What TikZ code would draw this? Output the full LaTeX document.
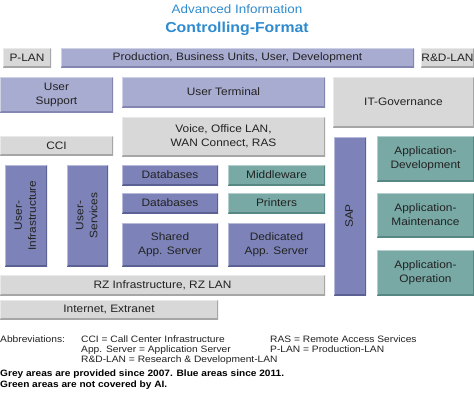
\documentclass[tikz,border=0pt]{standalone}
\usepackage{fontspec}
\usepackage{graphicx}
\setmainfont[FakeStretch=1.1]{Liberation Sans}
\definecolor{txt}{HTML}{222222}
\definecolor{title}{HTML}{2E8BCF}
\definecolor{lblue}{HTML}{A9ACD1}
\definecolor{lblueE}{HTML}{8286B0}
\definecolor{dblue}{HTML}{7D83B8}
\definecolor{dblueE}{HTML}{5C6194}
\definecolor{green}{HTML}{78A9A5}
\definecolor{greenE}{HTML}{578783}
\definecolor{grey}{HTML}{D8D8D8}
\definecolor{greyE}{HTML}{A6A6A6}
\tikzset{
  box/.style={inner sep=0pt, outer sep=0pt, align=center, text=txt,
    font=\fontsize{10.8}{14}\selectfont},
  bevel/.style={path picture={
    \draw[line width=3pt, #1] (path picture bounding box.south west) -- (path picture bounding box.south east) -- (path picture bounding box.north east);
    \draw[line width=1.6pt, white, opacity=0.45] (path picture bounding box.south west) -- (path picture bounding box.north west) -- (path picture bounding box.north east);}},
  greybox/.style={box, fill=grey, bevel=greyE},
  lbluebox/.style={box, fill=lblue, bevel=lblueE},
  dbluebox/.style={box, fill=dblue, bevel=dblueE},
  greenbox/.style={box, fill=green, bevel=greenE},
  abbr/.style={inner sep=0pt, anchor=base west, text=txt, font=\fontsize{9.3}{10}\selectfont},
  note/.style={inner sep=0pt, anchor=base west, text=black, font=\fontsize{9.2}{10}\selectfont\bfseries},
}
\newcommand{\bx}[7]{\node[#6, anchor=north west, minimum width={(#4-#2)*1pt}, minimum height={(#5-#3)*1pt}] (#1) at (#2,#3) {#7};}
\newcommand{\vtext}[1]{\rotatebox{90}{\begin{tabular}{@{}c@{}}#1\end{tabular}}}
\begin{document}
\begin{tikzpicture}[x=1pt, y=-1pt]
\useasboundingbox[fill=white] (0,0) rectangle (474,407);
% title
\node[inner sep=0pt, anchor=base, text=title, font=\fontsize{12.2}{13}\selectfont] (t1) at (237,13.5) {Advanced Information};
\node[inner sep=0pt, anchor=base, text=title, font=\fontsize{14.4}{15}\selectfont\bfseries] (t2) at (237,32.5) {Controlling-Format};
% row 1
\bx{plan}{3}{48}{51}{67}{greybox}{P-LAN}
\bx{prod}{61}{48}{414}{67}{lbluebox}{Production, Business Units, User, Development}
\bx{rdlan}{421}{48}{474}{67}{greybox}{R\&D-LAN}
% row 2
\bx{usup}{0}{77}{113}{112}{lbluebox}{User\\Support}
\bx{uterm}{122}{77}{325}{107}{lbluebox}{User Terminal}
\bx{itgov}{333}{77}{474}{127}{greybox}{IT-Governance}
\bx{cci}{0}{136}{113}{155}{greybox}{CCI}
\bx{voice}{122}{117}{325}{156}{greybox}{Voice, Office LAN,\\WAN Connect, RAS}
\bx{sap}{334}{137}{366}{295}{dbluebox}{\vtext{SAP}}
\bx{appdev}{377}{136}{474}{181}{greenbox}{Application-\\Development}
% row 3
\bx{uinfra}{5}{165}{47}{266}{dbluebox}{\vtext{User-\\Infrastructure}}
\bx{userv}{67}{165}{108}{266}{dbluebox}{\vtext{User-\\Services}}
\bx{db1}{122}{165}{218}{185}{dbluebox}{Databases}
\bx{mw}{228}{165}{325}{185}{greenbox}{Middleware}
\bx{db2}{122}{193}{218}{213}{dbluebox}{Databases}
\bx{print}{228}{193}{325}{213}{greenbox}{Printers}
\bx{shared}{122}{223}{218}{266}{dbluebox}{Shared\\App. Server}
\bx{dedic}{228}{223}{325}{266}{dbluebox}{Dedicated\\App. Server}
\bx{appmt}{377}{193}{474}{237}{greenbox}{Application-\\Maintenance}
\bx{appop}{377}{250}{474}{295}{greenbox}{Application-\\Operation}
\bx{rz}{0}{275}{325}{295}{greybox}{RZ Infrastructure, RZ LAN}
\bx{inet}{0}{300}{218}{319}{greybox}{Internet, Extranet}
% abbreviations
\node[abbr] (ab0) at (0,342.5) {Abbreviations:};
\node[abbr] (ab1) at (81,342.5) {CCI = Call Center Infrastructure};
\node[abbr] (ab2) at (81,352.5) {App. Server = Application Server};
\node[abbr] (ab3) at (81,362.5) {R\&D-LAN = Research \& Development-LAN};
\node[abbr] (ab4) at (270,342.5) {RAS = Remote Access Services};
\node[abbr] (ab5) at (270,352.5) {P-LAN = Production-LAN};
\node[note] (n1) at (0,376.5) {Grey areas are provided since 2007. Blue areas since 2011.};
\node[note] (n2) at (0,387) {Green areas are not covered by AI.};
\end{tikzpicture}
\end{document}
